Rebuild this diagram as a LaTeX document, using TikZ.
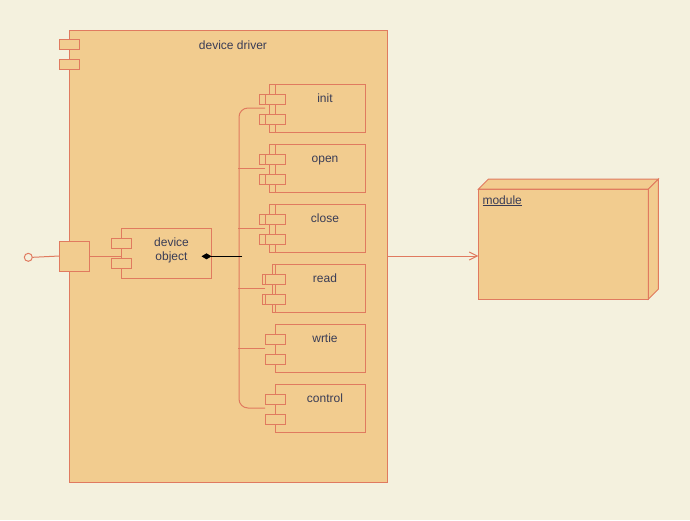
\documentclass[tikz,border=0pt]{standalone}
\usepackage{fontspec}
\setmainfont{Liberation Sans}
\usetikzlibrary{arrows.meta,calc}
\definecolor{bg}{HTML}{F4F1DE}
\definecolor{fillc}{HTML}{F2CC8F}
\definecolor{strokec}{HTML}{E07A5F}
\definecolor{txt}{HTML}{393C56}
\tikzset{
  box/.style={draw=strokec, fill=fillc, line width=1pt, inner sep=0pt, outer sep=0pt},
  wire/.style={draw=strokec, line width=1pt},
  lbl/.style={text=txt, font=\fontsize{12}{14}\selectfont, inner sep=0pt},
}
\begin{document}
\begin{tikzpicture}[x=1pt,y=-1pt]
\useasboundingbox[fill=bg] (0,0) rectangle (690,520);
% outer component
\node[box, minimum width=318, minimum height=452] (driver) at (228,256) {};
\node[box, minimum width=20, minimum height=10] (dtab1) at (69,44.5) {};
\node[box, minimum width=20, minimum height=10] (dtab2) at (69,64.5) {};
\node[lbl, anchor=base] (driverlbl) at (233,49) {device driver};
% inner components
\foreach \n/\y/\t/\o in {init/84/init/6, open/144/open/6, close/204/close/6, read/264/read/3, wrtie/324/wrtie/0, control/384/control/0} {
  \pgfmathsetmacro\bw{90+\o}
  \node[box, minimum width=\bw, minimum height=48, anchor=north east] (\n-back) at (365,\y) {};
  \node[box, minimum width=20, minimum height=10] (\n-bt1) at (275-\o,\y+15) {};
  \node[box, minimum width=20, minimum height=10] (\n-bt2) at (275-\o,\y+35) {};
  \node[box, minimum width=90, minimum height=48, anchor=north west] (\n) at (275,\y) {};
  \node[box, minimum width=20, minimum height=10] (\n-t1) at (275,\y+15) {};
  \node[box, minimum width=20, minimum height=10] (\n-t2) at (275,\y+35) {};
  \node[lbl, anchor=base] (\n-l) at (325,\y+18) {\t};
  \coordinate (\n-p) at ($(\n.west)+(-10,0)$);
}
% bus
\draw[wire, rounded corners=9] (init-p) -- ++(-26,0) |- (control-p);
\foreach \n in {open,close,read,wrtie} {
  \draw[wire] (\n-p) -- ++(-27,0);
}
% device object
\node[box, minimum width=90, minimum height=50] (devobj) at (166.5,253.3) {};
\node[box, minimum width=20, minimum height=10] (devt1) at (121.3,243.3) {};
\node[box, minimum width=20, minimum height=10] (devt2) at (121.3,263.3) {};
\node[lbl, anchor=north, align=center] (devlbl) at (171.5,238) {device\\object};
\coordinate (busj) at (242.3,256.3);
\draw[black, line width=1pt, -{Diamond[length=10pt,width=6pt]}] (busj) -- ([xshift=-10pt]devobj.east |- busj);
% port and lollipop
\node[box, minimum width=30, minimum height=30] (port) at (74.3,256) {};
\node[draw=strokec, fill=bg, line width=1pt, circle, minimum size=8, inner sep=0pt] (lol) at (28.3,257.3) {};
\draw[wire] (lol.east) -- (port.west);
\draw[wire] (port.east) -- (port.east -| devobj.west);
% module node
\node[box, minimum width=170, minimum height=110] (module) at (563.3,244.2) {};
\draw[box] (module.north west) -- ++(10,-10) -- ($(module.north east)+(10,-10)$) -- (module.north east) -- cycle;
\draw[box] (module.north east) -- ++(10,-10) -- ($(module.south east)+(10,-10)$) -- (module.south east) -- cycle;
\node[lbl, anchor=base west] (modlbl) at (482.3,204) {\underline{module}};
% dependency
\draw[wire, -{Straight Barb[length=8pt,width=8pt]}] (driver.east) -- (driver.east -| module.west);
\end{tikzpicture}
\end{document}
